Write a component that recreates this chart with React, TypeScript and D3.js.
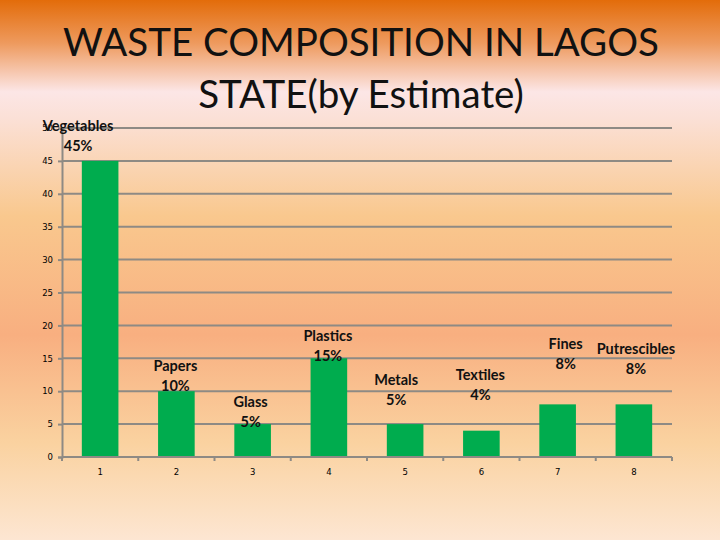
import React, { useEffect, useRef } from 'react';
import * as d3 from 'd3';

const categories = ['1', '2', '3', '4', '5', '6', '7', '8'];
const materials = ['Vegetables', 'Papers', 'Glass', 'Plastics', 'Metals', 'Textiles', 'Fines', 'Putrescibles'];
const values = [45, 10, 5, 15, 5, 4, 8, 8];
const yTicks = [0, 5, 10, 15, 20, 25, 30, 35, 40, 45, 50];
const titleLines = ['WASTE COMPOSITION IN LAGOS', 'STATE(by Estimate)'];

// label offsets (px) from the bar centre / bar top, as the labels were dragged around
const labelShift = [
  { dx: -22, dy: -30 },
  { dx: -1, dy: -20 },
  { dx: -2, dy: -17 },
  { dx: -1, dy: -17 },
  { dx: -9, dy: -39 },
  { dx: -1, dy: -51 },
  { dx: 8, dy: -55 },
  { dx: 2, dy: -50 },
];

const W = 720;
const H = 540;

const App: React.FC = () => {
  const svgRef = useRef<SVGSVGElement>(null);

  useEffect(() => {
    if (!svgRef.current) return;
    const svg = d3.select(svgRef.current);
    svg.selectAll('*').remove();

    // background gradient
    const defs = svg.append('defs');
    const bg = defs.append('linearGradient')
      .attr('id', 'bg-grad')
      .attr('x1', '0%').attr('x2', '0%')
      .attr('y1', '0%').attr('y2', '100%');
    const stops: [number, string][] = [
      [0, '#E36C0A'],
      [0.08, '#EE9A5E'],
      [0.17, '#FCE6E6'],
      [0.22, '#FBE0D6'],
      [0.4, '#F9C88E'],
      [0.62, '#F8AF80'],
      [0.82, '#FAD2A0'],
      [1, '#FDE6D2'],
    ];
    bg.selectAll('stop')
      .data(stops)
      .enter().append('stop')
      .attr('offset', d => `${d[0] * 100}%`)
      .attr('stop-color', d => d[1]);

    svg.append('rect')
      .attr('width', W)
      .attr('height', H)
      .style('fill', 'url(#bg-grad)');

    const margin = { top: 128, right: 48, bottom: 83, left: 62 };
    const innerW = W - margin.left - margin.right;
    const innerH = H - margin.top - margin.bottom;

    const x = d3.scaleBand<string>()
      .domain(categories)
      .range([0, innerW])
      .paddingInner(0.52)
      .paddingOuter(0.26);

    const y = d3.scaleLinear()
      .domain([0, 50])
      .range([innerH, 0]);

    const g = svg.append('g')
      .attr('transform', `translate(${margin.left}, ${margin.top})`);

    const gridColor = '#8E8A84';

    // gridlines
    g.selectAll('.grid')
      .data(yTicks.filter(t => t > 0))
      .enter().append('line')
      .attr('class', 'grid')
      .attr('x1', 0)
      .attr('x2', innerW)
      .attr('y1', d => y(d))
      .attr('y2', d => y(d))
      .style('stroke', gridColor)
      .style('stroke-width', 2);

    // y axis
    const yAxis = d3.axisLeft(y)
      .tickValues(yTicks)
      .tickSize(4)
      .tickPadding(5)
      .tickFormat(d3.format('d'));

    const yg = g.append('g').call(yAxis);
    yg.select('.domain').style('stroke', gridColor).style('stroke-width', 2);
    yg.selectAll('.tick line').style('stroke', gridColor).style('stroke-width', 2);
    yg.selectAll('.tick text')
      .style('font-family', 'DejaVu Sans')
      .style('font-size', '8.5px')
      .style('fill', '#000');

    // bars
    g.selectAll('.bar')
      .data(values)
      .enter().append('rect')
      .attr('class', 'bar')
      .attr('x', (_d, i) => x(categories[i]) as number)
      .attr('y', d => y(d))
      .attr('width', x.bandwidth())
      .attr('height', d => innerH - y(d))
      .style('fill', '#00AC4E');

    // x axis
    const step = x.step();
    const boundaries = d3.range(categories.length + 1).map(i => i * step);
    g.append('line')
      .attr('x1', 0)
      .attr('x2', innerW)
      .attr('y1', innerH)
      .attr('y2', innerH)
      .style('stroke', gridColor)
      .style('stroke-width', 2);
    g.selectAll('.xtick')
      .data(boundaries)
      .enter().append('line')
      .attr('class', 'xtick')
      .attr('x1', d => d)
      .attr('x2', d => d)
      .attr('y1', innerH)
      .attr('y2', innerH + 4)
      .style('stroke', gridColor)
      .style('stroke-width', 2);
    g.selectAll('.xlabel')
      .data(categories)
      .enter().append('text')
      .attr('class', 'xlabel')
      .attr('x', d => (x(d) as number) + x.bandwidth() / 2)
      .attr('y', innerH + 18)
      .style('text-anchor', 'middle')
      .style('font-family', 'DejaVu Sans')
      .style('font-size', '8.5px')
      .text(d => d);

    // data labels
    const labels = g.selectAll('.dlabel')
      .data(values)
      .enter().append('text')
      .attr('class', 'dlabel')
      .attr('transform', (d, i) => {
        const cx = (x(categories[i]) as number) + x.bandwidth() / 2 + labelShift[i].dx;
        return `translate(${cx}, ${y(d) + labelShift[i].dy})`;
      })
      .style('text-anchor', 'middle')
      .style('font-family', 'Lato, "Open Sans", sans-serif')
      .style('font-weight', 'bold')
      .style('font-size', '14.5px')
      .style('fill', '#111');
    labels.append('tspan')
      .attr('x', 0)
      .attr('dy', 0)
      .text((_d, i) => materials[i]);
    labels.append('tspan')
      .attr('x', 0)
      .attr('dy', 20)
      .text(d => `${d}%`);

    // title
    svg.selectAll('.title')
      .data(titleLines)
      .enter().append('text')
      .attr('class', 'title')
      .attr('x', 361)
      .attr('y', (_d, i) => 56 + i * 52)
      .style('text-anchor', 'middle')
      .style('font-family', 'Lato, "Open Sans", sans-serif')
      .style('font-size', '38.5px')
      .style('fill', '#111')
      .text(d => d);
  }, []);

  return (
    <svg
      ref={svgRef}
      width={W}
      height={H}
      style={{ position: 'absolute', left: 0, top: 0, display: 'block' }}
    />
  );
};

export default App;
